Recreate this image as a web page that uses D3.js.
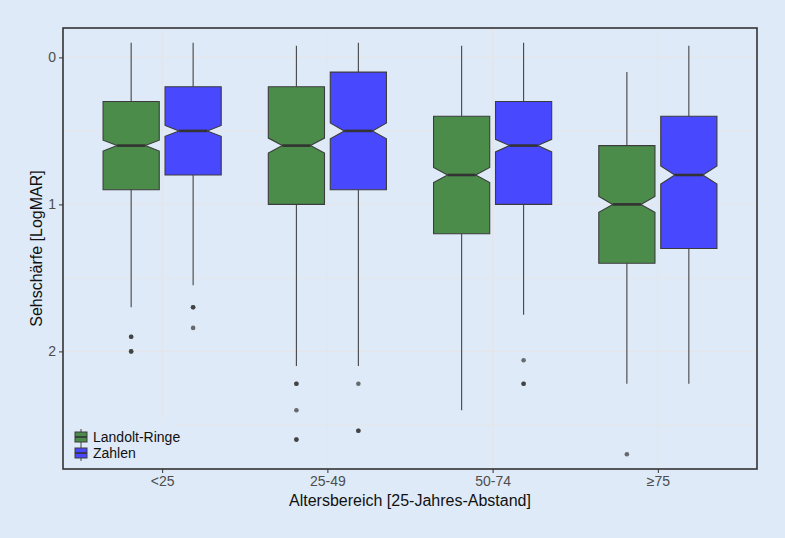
<!DOCTYPE html>
<html>
<head>
<meta charset="utf-8">
<script src="https://cdn.jsdelivr.net/npm/d3@7"></script>
<style>
  body { margin: 0; background: #deeaf7; }
  svg { display: block; font-family: "Liberation Sans", Arial, sans-serif; }
</style>
</head>
<body>
<svg id="chart" width="785" height="538"></svg>
<script>
// age groups
const categories = ["<25", "25-49", "50-74", "\u226575"];
const seriesNames = ["Landolt-Ringe", "Zahlen"];
const seriesColors = ["#4b8c4b", "#4848ff"];

// Landolt-Ringe (LogMAR), whisker ends, quartiles, median, notch half-width
const ringeLow = [-0.1, -0.08, -0.08, 0.1];
const ringeQ1 = [0.3, 0.2, 0.4, 0.6];
const ringeMed = [0.6, 0.6, 0.8, 1.0];
const ringeQ3 = [0.9, 1.0, 1.2, 1.4];
const ringeHigh = [1.7, 2.1, 2.4, 2.22];
const ringeNotch = [0.037, 0.051, 0.051, 0.054];
const ringeOut = [[1.9, 1.9, 2.0, 2.0], [2.22, 2.22, 2.4, 2.6, 2.6], [], [2.7]];

// Zahlen
const zahlenLow = [-0.1, -0.1, -0.1, -0.08];
const zahlenQ1 = [0.2, 0.1, 0.3, 0.4];
const zahlenMed = [0.5, 0.5, 0.6, 0.8];
const zahlenQ3 = [0.8, 0.9, 1.0, 1.3];
const zahlenHigh = [1.55, 2.1, 1.75, 2.22];
const zahlenNotch = [0.037, 0.054, 0.043, 0.061];
const zahlenOut = [[1.7, 1.7, 1.84], [2.22, 2.54, 2.54], [2.06, 2.22, 2.22], []];

const yTicks = [0, 1, 2];
const yMinor = [0.5, 1.5, 2.5];

function buildSeries(low, q1, med, q3, high, notch, out){
    return categories.map((c, i) => ({
        cat: i, low: low[i], q1: q1[i], med: med[i], q3: q3[i], high: high[i],
        notch: notch[i], out: out[i]
    }));
}
const series = [
    buildSeries(ringeLow, ringeQ1, ringeMed, ringeQ3, ringeHigh, ringeNotch, ringeOut),
    buildSeries(zahlenLow, zahlenQ1, zahlenMed, zahlenQ3, zahlenHigh, zahlenNotch, zahlenOut)
];

const margin = { top: 28, right: 28, bottom: 69, left: 63 },
    width = 785, height = 538;

const svg = d3.select('#chart');

const x = d3.scaleLinear().domain([0.4, 4.6]).range([margin.left, width - margin.right]);
const y = d3.scaleLinear().domain([-0.2, 2.8]).range([margin.top, height - margin.bottom]);

const dodge = [-0.1875, 0.1875];
const boxW = 0.34;

// panel background + grid
svg.append('rect')
    .attr('x', margin.left).attr('y', margin.top)
    .attr('width', x.range()[1] - x.range()[0])
    .attr('height', y.range()[1] - y.range()[0])
    .attr('fill', '#deeaf7');

const grid = svg.append('g').attr('stroke', '#e6e5e8').attr('stroke-width', 1);
grid.selectAll('line.h')
    .data(yTicks.concat(yMinor))
    .join('line')
    .attr('x1', x.range()[0]).attr('x2', x.range()[1])
    .attr('y1', (d) => y(d)).attr('y2', (d) => y(d));
grid.selectAll('line.v')
    .data(categories)
    .join('line')
    .attr('x1', (d, i) => x(i + 1)).attr('x2', (d, i) => x(i + 1))
    .attr('y1', y.range()[0]).attr('y2', y.range()[1]);

// boxes
series.forEach((s, k) => {
    const g = svg.append('g');
    s.forEach((d) => {
        const cx = x(d.cat + 1 + dodge[k]);
        const hw = (x(boxW) - x(0)) / 2;
        // whiskers
        g.append('line')
            .attr('x1', cx).attr('x2', cx)
            .attr('y1', y(d.low)).attr('y2', y(d.q1))
            .attr('stroke', '#444').attr('stroke-width', 1.1);
        g.append('line')
            .attr('x1', cx).attr('x2', cx)
            .attr('y1', y(d.q3)).attr('y2', y(d.high))
            .attr('stroke', '#444').attr('stroke-width', 1.1);
        // notched box
        const pts = [
            [cx - hw, y(d.q1)], [cx + hw, y(d.q1)],
            [cx + hw, y(d.med - d.notch)], [cx + hw / 2, y(d.med)],
            [cx + hw, y(d.med + d.notch)], [cx + hw, y(d.q3)],
            [cx - hw, y(d.q3)], [cx - hw, y(d.med + d.notch)],
            [cx - hw / 2, y(d.med)], [cx - hw, y(d.med - d.notch)]
        ];
        g.append('path')
            .attr('d', d3.line()(pts) + 'Z')
            .attr('fill', seriesColors[k])
            .attr('stroke', '#3c3c3c').attr('stroke-width', 1.1);
        g.append('line')
            .attr('x1', cx - hw / 2).attr('x2', cx + hw / 2)
            .attr('y1', y(d.med)).attr('y2', y(d.med))
            .attr('stroke', '#333').attr('stroke-width', 2.6);
        // outliers
        g.selectAll(null)
            .data(d.out)
            .join('circle')
            .attr('cx', cx).attr('cy', (v) => y(v))
            .attr('r', 2.3)
            .attr('fill', '#333').attr('fill-opacity', 0.7);
    });
});

// legend
const lg = svg.append('g');
lg.append('rect')
    .attr('x', 65).attr('y', 421).attr('width', 108).attr('height', 46)
    .attr('fill', '#deeaf7');
seriesNames.forEach((name, k) => {
    const ky = 437 + k * 16;
    lg.append('line')
        .attr('x1', 81).attr('x2', 81).attr('y1', ky - 8).attr('y2', ky + 8)
        .attr('stroke', '#444').attr('stroke-width', 1);
    lg.append('rect')
        .attr('x', 75).attr('y', ky - 5).attr('width', 12).attr('height', 10)
        .attr('fill', seriesColors[k]).attr('stroke', '#3c3c3c').attr('stroke-width', 1);
    lg.append('line')
        .attr('x1', 75).attr('x2', 87).attr('y1', ky).attr('y2', ky)
        .attr('stroke', '#333').attr('stroke-width', 1.6);
    lg.append('text')
        .attr('x', 93).attr('y', ky).attr('dy', '0.36em')
        .attr('font-size', 14).attr('fill', '#111')
        .text(name);
});

// axes
const yAxis = (g) =>
    g.attr('transform', `translate(${margin.left},0)`)
        .call(d3.axisLeft(y).tickValues(yTicks).tickFormat(d3.format('d')).tickSize(4).tickPadding(3))
        .call((g) => g.select('.domain').remove())
        .call((g) => g.selectAll('line').attr('stroke', '#333'))
        .call((g) => g.selectAll('text').attr('font-size', 14).attr('fill', '#4d4d4d').attr('font-family', null));
const xAxis = (g) =>
    g.attr('transform', `translate(0,${height - margin.bottom})`)
        .call(d3.axisBottom(x).tickValues([1, 2, 3, 4]).tickFormat((i) => categories[i - 1]).tickSize(4).tickPadding(3))
        .call((g) => g.select('.domain').remove())
        .call((g) => g.selectAll('line').attr('stroke', '#333'))
        .call((g) => g.selectAll('text').attr('font-size', 14).attr('fill', '#4d4d4d').attr('font-family', null));
svg.append('g').call(yAxis);
svg.append('g').call(xAxis);

// panel border
svg.append('rect')
    .attr('x', margin.left).attr('y', margin.top)
    .attr('width', x.range()[1] - x.range()[0])
    .attr('height', y.range()[1] - y.range()[0])
    .attr('fill', 'none').attr('stroke', '#333').attr('stroke-width', 1.6);

// titles
svg.append('text')
    .attr('x', (x.range()[0] + x.range()[1]) / 2)
    .attr('y', 506)
    .attr('text-anchor', 'middle')
    .attr('font-size', 16).attr('fill', '#111')
    .text('Altersbereich [25-Jahres-Abstand]');
svg.append('text')
    .attr('transform', `translate(42,${(y.range()[0] + y.range()[1]) / 2}) rotate(-90)`)
    .attr('text-anchor', 'middle')
    .attr('font-size', 16).attr('fill', '#111')
    .text('Sehschärfe [LogMAR]');
</script>
</body>
</html>
